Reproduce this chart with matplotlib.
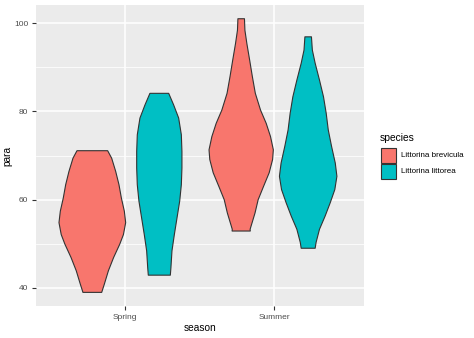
import matplotlib.pyplot as plt
from matplotlib.patches import Rectangle
import numpy as np

plt.rcParams['font.family'] = ['Liberation Sans', 'DejaVu Sans']

seasons = ['Spring', 'Summer']
species = ['Littorina brevicula', 'Littorina littorea']
fill_colors = ['#F8766D', '#00BFC4']

# violin outlines: para value and half width (category units)
spring_brev_para = [71.2, 69.5, 66.5, 63.5, 60.5, 57.5, 54.9, 52.2, 50.0, 47.0, 44.0, 41.0, 39.1]
spring_brev_hw = [0.103, 0.130, 0.157, 0.179, 0.195, 0.215, 0.224, 0.209, 0.184, 0.143, 0.108, 0.081, 0.063]

spring_litt_para = [84.2, 81.6, 78.6, 74.8, 71.0, 67.3, 63.5, 59.8, 56.0, 52.2, 48.5, 44.7, 43.0]
spring_litt_hw = [0.063, 0.096, 0.130, 0.148, 0.152, 0.152, 0.148, 0.137, 0.119, 0.101, 0.085, 0.078, 0.074]

summer_brev_para = [101.1, 98.5, 95.5, 91.7, 88.0, 84.2, 80.4, 77.4, 74.4, 71.4, 69.2,
                    66.2, 63.1, 60.1, 57.1, 53.4, 53.0]
summer_brev_hw = [0.022, 0.025, 0.038, 0.057, 0.075, 0.095, 0.130, 0.168, 0.197, 0.216, 0.211,
                  0.188, 0.150, 0.114, 0.093, 0.060, 0.061]

summer_litt_para = [97.0, 94.0, 91.0, 87.2, 83.4, 79.7, 75.9, 72.2, 68.4, 65.4, 62.4,
                    59.4, 56.4, 53.4, 50.4, 49.1]
summer_litt_hw = [0.022, 0.028, 0.047, 0.076, 0.103, 0.121, 0.135, 0.157, 0.182, 0.193, 0.179,
                  0.148, 0.114, 0.076, 0.053, 0.047]

violins = [
    (0, 0, spring_brev_para, spring_brev_hw),
    (0, 1, spring_litt_para, spring_litt_hw),
    (1, 0, summer_brev_para, summer_brev_hw),
    (1, 1, summer_litt_para, summer_litt_hw),
]

W, H = 474, 338
fig = plt.figure(figsize=(W / 100, H / 100), dpi=100)
ax = fig.add_axes([36 / W, 32 / H, 327.5 / W, 301 / H])
ax.set_facecolor('#EBEBEB')

for s, sp, para, hw in violins:
    centre = s + 1 + (-0.225 if sp == 0 else 0.225)
    hw = np.array(hw)
    ax.fill_betweenx(para, centre - hw, centre + hw, facecolor=fill_colors[sp],
                     edgecolor='#333333', linewidth=0.8, zorder=3)

ax.set_xlim(0.4, 2.6)
ax.set_ylim(35.9, 104.1)
ax.set_xticks([1, 2])
ax.set_xticklabels(seasons)
ax.set_yticks([40, 60, 80, 100])
ax.set_yticks([50, 70, 90], minor=True)
ax.grid(which='major', color='white', linewidth=1.1, zorder=0)
ax.grid(which='minor', axis='y', color='white', linewidth=0.55, zorder=0)
ax.set_axisbelow(True)
for sp_ in ax.spines.values():
    sp_.set_visible(False)
ax.tick_params(which='major', length=3, width=0.8, color='#333333',
               labelsize=6, labelcolor='#4D4D4D', pad=2.5)
ax.tick_params(which='minor', length=0)
ax.set_xlabel('season', fontsize=7.3, labelpad=2)
ax.set_ylabel('para', fontsize=7.3, labelpad=1)

# legend, ggplot style: title then stacked square keys
fig.text(380 / W, 1 - 138 / H, 'species', fontsize=7.4, va='center', ha='left')
for i, (name, c) in enumerate(zip(species, fill_colors)):
    top = 148.3 + i * 15.5
    fig.patches.append(Rectangle((380.5 / W, 1 - (top + 15) / H), 15 / W, 15 / H,
                                 transform=fig.transFigure, facecolor=c,
                                 edgecolor='#333333', linewidth=0.8))
    fig.text(400.7 / W, 1 - (top + 7.5) / H, name, fontsize=5.8, va='center', ha='left')

fig.savefig('out.png', dpi=100)
